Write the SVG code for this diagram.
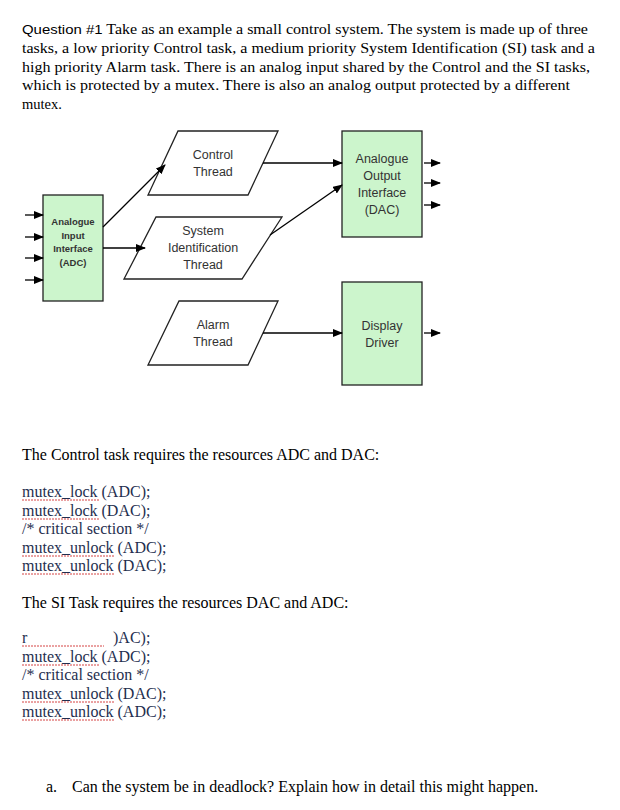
<svg xmlns="http://www.w3.org/2000/svg" width="620" height="810" viewBox="0 0 620 810">
<style>
.p{font-family:"Liberation Serif",serif;font-size:14.5px;fill:#000}
.q{font-family:"Liberation Serif",serif;font-size:16px;fill:#000}
.c{font-family:"Liberation Serif",serif;font-size:16px;fill:#1f2f4f}
.n{font-family:"Liberation Sans",Arial,sans-serif;font-size:12.5px;fill:#333;text-anchor:middle}
.nb{font-family:"Liberation Sans",Arial,sans-serif;font-size:9.5px;font-weight:bold;fill:#333;text-anchor:middle}
.box{fill:#ccf5cc;stroke:#222;stroke-width:1.3}
.par{fill:#fff;stroke:#222;stroke-width:1.3}
.a{stroke:#000;stroke-width:1.3;fill:none;marker-end:url(#ah)}
.w{stroke:#d03030;stroke-width:0.9;fill:none;stroke-dasharray:2 1}
</style>
<defs><marker id="ah" markerWidth="10" markerHeight="8" refX="9" refY="4" orient="auto" markerUnits="userSpaceOnUse"><path d="M0,0 L10,4 L0,8 z" fill="#000"/></marker></defs>
<rect width="620" height="810" fill="#fff"/>
<g id="question">
<text class="p" x="22" y="34" textLength="566" lengthAdjust="spacingAndGlyphs"><tspan font-family="Liberation Sans,sans-serif" font-size="13.5">Question #1</tspan> Take as an example a small control system. The system is made up of three</text>
<text class="p" x="22" y="53" textLength="573" lengthAdjust="spacingAndGlyphs">tasks, a low priority Control task, a medium priority System Identification (SI) task and a</text>
<text class="p" x="22" y="72" textLength="568" lengthAdjust="spacingAndGlyphs">high priority Alarm task. There is an analog input shared by the Control and the SI tasks,</text>
<text class="p" x="22" y="90" textLength="548" lengthAdjust="spacingAndGlyphs">which is protected by a mutex. There is also an analog output protected by a different</text>
<text class="p" x="22" y="109">mutex.</text>
</g>
<g id="adc"><rect class="box" x="43" y="195" width="60" height="106"/>
<text class="nb" x="73" y="225">Analogue</text><text class="nb" x="73" y="239">Input</text><text class="nb" x="73" y="252">Interface</text><text class="nb" x="73" y="266" font-weight="normal">(ADC)</text></g>
<g id="control"><polygon class="par" points="178,131 278,131 248,195 148,195"/>
<text class="n" x="213" y="159">Control</text><text class="n" x="213" y="176">Thread</text></g>
<g id="si"><polygon class="par" points="156,217 282,217 242,279 124,279"/>
<text class="n" x="203" y="235">System</text><text class="n" x="203" y="252">Identification</text><text class="n" x="203" y="269">Thread</text></g>
<g id="alarm"><polygon class="par" points="179,301 278,301 248,365 148,365"/>
<text class="n" x="213" y="329">Alarm</text><text class="n" x="213" y="346">Thread</text></g>
<g id="dac"><rect class="box" x="342" y="131" width="80" height="106"/>
<text class="n" x="382" y="163">Analogue</text><text class="n" x="382" y="180">Output</text><text class="n" x="382" y="197">Interface</text><text class="n" x="382" y="214">(DAC)</text></g>
<g id="display"><rect class="box" x="342" y="282" width="80" height="103"/>
<text class="n" x="382" y="330">Display</text><text class="n" x="382" y="347">Driver</text></g>
<g id="connectors">
<path class="a" d="M25,215H43"/><path class="a" d="M25,237H43"/><path class="a" d="M25,258H43"/><path class="a" d="M25,280H43"/>
<path class="a" d="M103,227L165,165"/><path class="a" d="M103,248H145"/>
<path class="a" d="M263,163H342"/><path class="a" d="M270,235L342,185"/><path class="a" d="M263,333H342"/>
<path class="a" d="M424,163H440"/><path class="a" d="M424,183H440"/><path class="a" d="M424,205H440"/><path class="a" d="M424,333H440"/>
</g>
<g id="code">
<text class="q" x="22" y="460">The Control task requires the resources ADC and DAC:</text>
<text class="c" x="22" y="497">mutex_lock (ADC);</text>
<text class="c" x="22" y="516">mutex_lock (DAC);</text>
<text class="c" x="22" y="534">/* critical section */</text>
<text class="c" x="22" y="553">mutex_unlock (ADC);</text>
<text class="c" x="22" y="571">mutex_unlock (DAC);</text>
<text class="q" x="22" y="608">The SI Task requires the resources DAC and ADC:</text>
<text class="c" x="22" y="643">r</text><text class="c" x="113" y="643">)AC);</text>
<text class="c" x="22" y="662">mutex_lock (ADC);</text>
<text class="c" x="22" y="680">/* critical section */</text>
<text class="c" x="22" y="699">mutex_unlock (DAC);</text>
<text class="c" x="22" y="717">mutex_unlock (ADC);</text>
<path class="w" d="M22,500H100M22,519H100M22,556H115M22,574H115M22,646H104M22,665H100M22,702H115M22,720H115"/>
<text class="q" x="46" y="792">a.</text>
<text class="q" x="72" y="792">Can the system be in deadlock? Explain how in detail this might happen.</text>
</g>
</svg>
